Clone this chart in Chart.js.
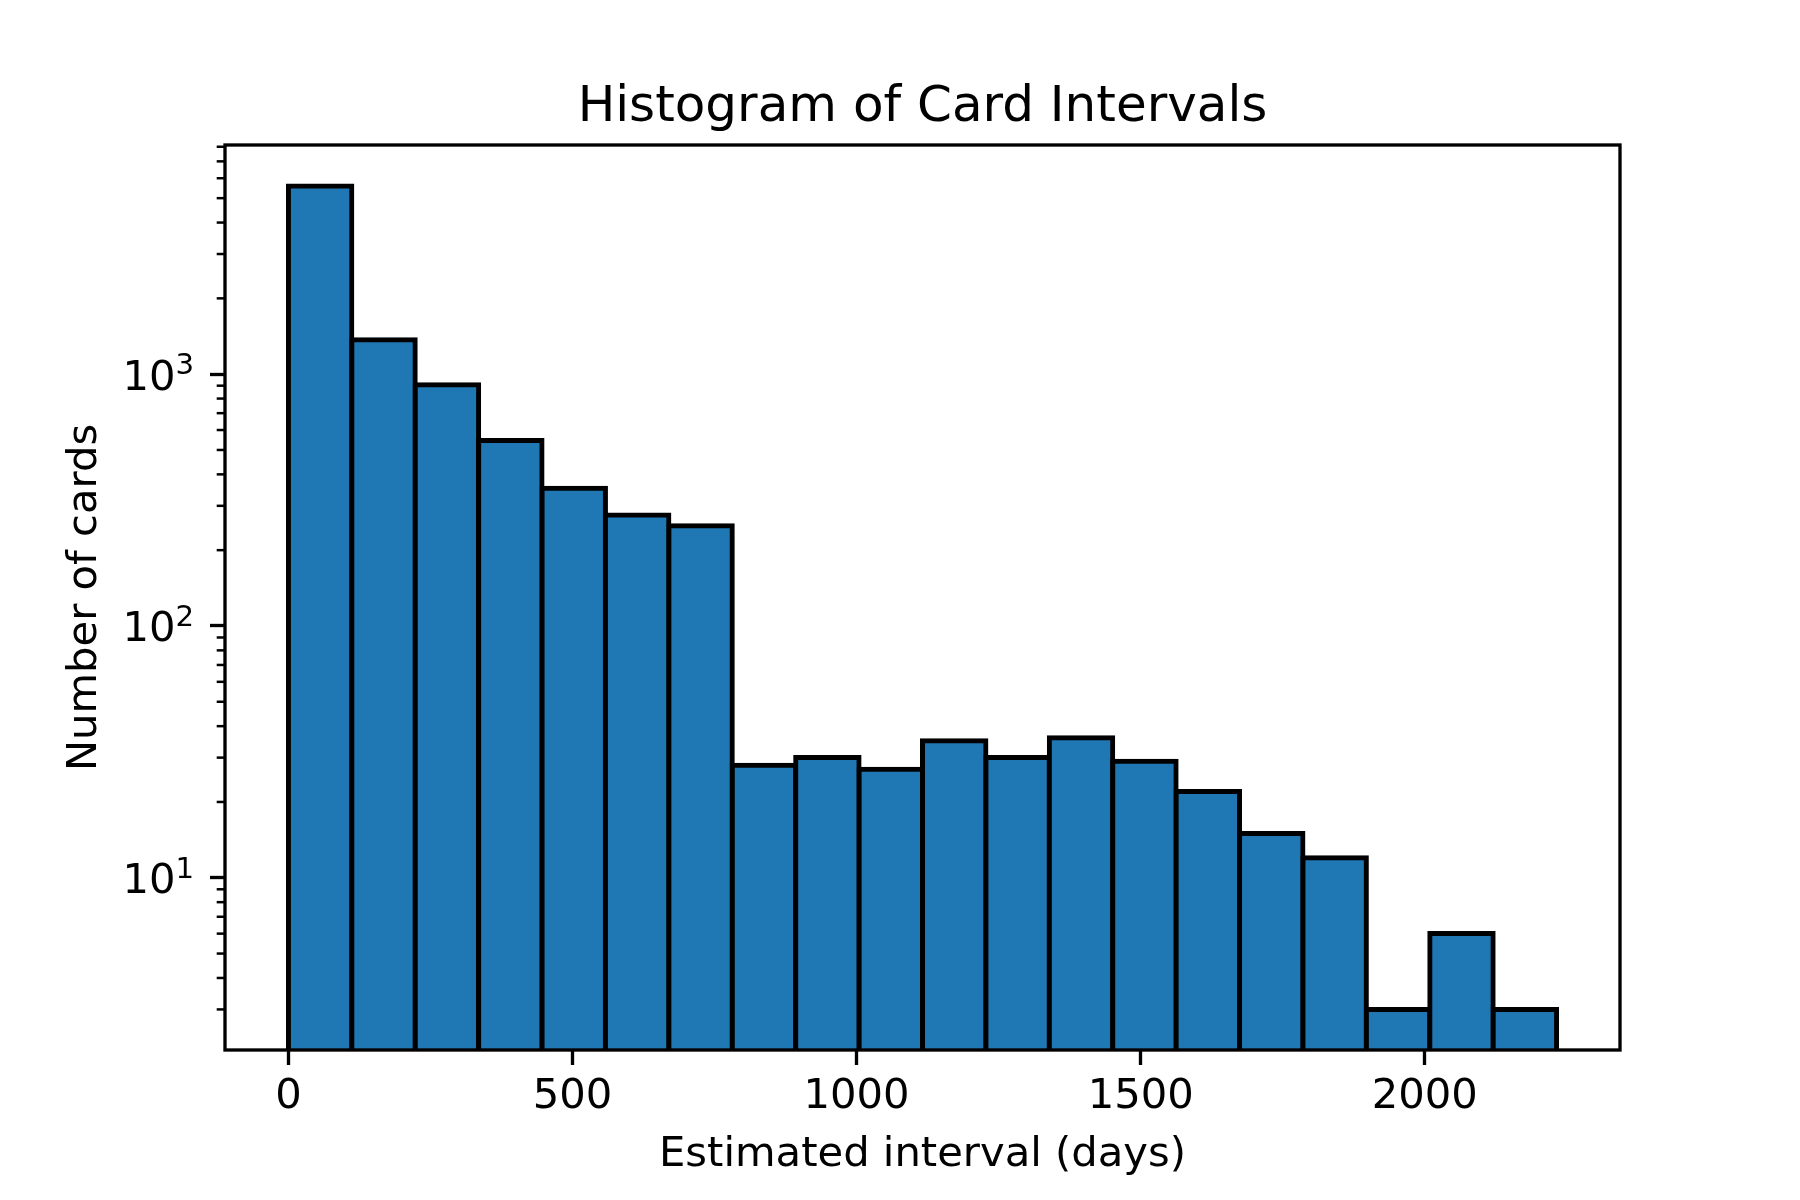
<!DOCTYPE html>
<html>
<head>
<meta charset="utf-8">
<title>Histogram of Card Intervals</title>
<script src="https://cdn.jsdelivr.net/npm/chart.js@4.4.1/dist/chart.umd.min.js"></script>
<style>
  html, body { margin: 0; padding: 0; background: #fff; }
  #wrap { width: 1800px; height: 1200px; }
</style>
</head>
<body>
<div id="wrap"><canvas id="histChart" width="1800" height="1200"></canvas></div>
<script>
// histogram bins (days) and card counts per bin
const binEdges = [0, 111.6, 223.2, 334.8, 446.4, 558, 669.6, 781.2, 892.8, 1004.4, 1116,
    1227.6, 1339.2, 1450.8, 1562.4, 1674, 1785.6, 1897.2, 2008.8, 2120.4, 2232];
const cardCounts = [5594, 1369, 908, 545, 352, 276, 250, 28, 30, 27, 35, 30, 36, 29, 22, 15, 12, 3, 6, 3];

// axis ticks
const xTicks = [0, 500, 1000, 1500, 2000];
const yTicks = [10, 100, 1000];
const yTickBase = '10';
const yTickExponents = ['1', '2', '3'];
const yMinorTicks = [3, 4, 5, 6, 7, 8, 9, 20, 30, 40, 50, 60, 70, 80, 90,
    200, 300, 400, 500, 600, 700, 800, 900, 2000, 3000, 4000, 5000, 6000, 7000, 8000];

const points = cardCounts.map((c, i) => ({ x: (binEdges[i] + binEdges[i + 1]) / 2, y: c }));

const FONT = '"DejaVu Sans", sans-serif';
Chart.defaults.font.family = FONT;
Chart.defaults.color = '#000';

// minor log ticks, 10^n labels and the box around the axes (matplotlib style)
const axesFrame = {
    id: 'axesFrame',
    afterDatasetsDraw(chart) {
        const { ctx, chartArea: a, scales: { y } } = chart;
        ctx.save();
        ctx.strokeStyle = '#000';
        ctx.lineWidth = 2.5;
        yMinorTicks.forEach(v => {
            if (v < y.min || v > y.max) return;
            const py = y.getPixelForValue(v);
            ctx.beginPath();
            ctx.moveTo(a.left - 8.3, py);
            ctx.lineTo(a.left, py);
            ctx.stroke();
        });
        ctx.lineWidth = 3.33;
        ctx.strokeRect(a.left, a.top, a.right - a.left, a.bottom - a.top);

        // tick labels like 10³ with a proper superscript
        ctx.fillStyle = '#000';
        ctx.textAlign = 'right';
        ctx.textBaseline = 'alphabetic';
        const xr = a.left - 31;
        yTicks.forEach((v, i) => {
            const py = y.getPixelForValue(v);
            ctx.font = '29.2px ' + FONT;
            const w = ctx.measureText(yTickExponents[i]).width;
            ctx.fillText(yTickExponents[i], xr, py);
            ctx.font = '41.7px ' + FONT;
            ctx.fillText(yTickBase, xr - w, py + 15.5);
        });
        ctx.restore();
    }
};

const ctx = document.getElementById('histChart').getContext('2d');
const histChart = new Chart(ctx, {
    type: 'bar',
    data: {
        datasets: [{
            data: points,
            backgroundColor: '#1f77b4',
            borderColor: '#000',
            borderWidth: 5,
            inflateAmount: 2.5,
            barPercentage: 1,
            categoryPercentage: 1
        }]
    },
    options: {
        responsive: false,
        devicePixelRatio: 1,
        animation: false,
        layout: { padding: { left: 0, right: 180, top: 0, bottom: 0 } },
        plugins: {
            legend: { display: false },
            tooltip: { enabled: false },
            title: {
                display: true,
                text: 'Histogram of Card Intervals',
                fullSize: false,
                font: { size: 50, weight: 'normal', lineHeight: 1.2 },
                color: '#000',
                padding: { top: 78, bottom: 7 }
            }
        },
        scales: {
            x: {
                type: 'linear',
                min: -111.6,
                max: 2343.6,
                offset: false,
                grid: { display: true, drawOnChartArea: false, offset: false, tickLength: 15, tickWidth: 3.33, tickColor: '#000' },
                border: { display: false },
                afterBuildTicks: scale => { scale.ticks = xTicks.map(v => ({ value: v })); },
                afterFit: scale => { scale.height = 150; },
                ticks: {
                    autoSkip: false,
                    maxRotation: 0,
                    padding: 7,
                    font: { size: 41.7, lineHeight: 1.2 },
                    callback: v => String(v)
                },
                title: {
                    display: true,
                    text: 'Estimated interval (days)',
                    font: { size: 41.7, lineHeight: 1.2 },
                    padding: { top: 0, bottom: 20 }
                }
            },
            y: {
                type: 'logarithmic',
                min: 2.07,
                max: 8130,
                grid: { display: true, drawOnChartArea: false, tickLength: 15, tickWidth: 3.33, tickColor: '#000' },
                border: { display: false },
                afterBuildTicks: scale => { scale.ticks = yTicks.map(v => ({ value: v })); },
                afterFit: scale => { scale.width = 225; },
                ticks: { display: false, autoSkip: false },
                title: {
                    display: true,
                    text: 'Number of cards',
                    font: { size: 41.7, lineHeight: 1.2 },
                    padding: { top: 60, bottom: 0 }
                }
            }
        }
    },
    plugins: [axesFrame]
});
</script>
</body>
</html>
